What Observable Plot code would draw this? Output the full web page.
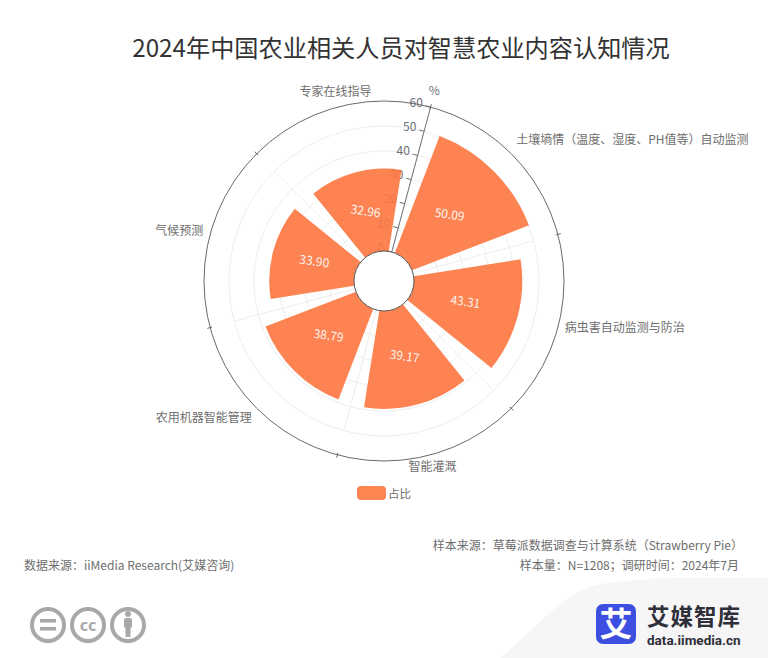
<!DOCTYPE html>
<html lang="zh">
<head>
<meta charset="utf-8">
<title>2024年中国农业相关人员对智慧农业内容认知情况</title>
<script src="https://cdn.jsdelivr.net/npm/d3@7"></script>
<script src="https://cdn.jsdelivr.net/npm/@observablehq/plot@0.6"></script>
<style>
  html,body{margin:0;padding:0;background:#fff;}
  body{width:768px;height:658px;position:relative;overflow:hidden;font-family:"Noto Sans CJK SC","Noto Sans",sans-serif;color:#666;}
  #bg{position:absolute;left:0;top:0;}
  #chart{position:absolute;left:0;top:0;}
  #chart svg{background:transparent;display:block;}
  .t{position:absolute;white-space:nowrap;font-size:12px;line-height:16px;color:#6e6e6e;}
  #title{left:0;width:802px;text-align:center;top:30px;font-size:24.2px;line-height:34px;color:#333;}
  #legend{left:357px;top:485px;display:flex;align-items:center;gap:2px;font-size:11.5px;}
  #legend i{display:block;width:29px;height:14px;border-radius:4px;background:#fd8552;}
  #logoT{left:647px;top:603px;font-size:22.5px;line-height:24px;font-weight:700;color:#2f2f3a;letter-spacing:1px;}
  #logoU{left:647px;top:633px;font-family:Roboto,sans-serif;font-size:13.5px;line-height:14px;font-weight:700;color:#2f2f3a;}
</style>
</head>
<body>
<svg id="bg" width="768" height="658">
  <path d="M500 658C540 625 565 590 600 584C650 576 720 578 768 578V658Z" fill="#f6f6f6"/>
  <g fill="none" stroke="#a8a8a8" stroke-width="4">
    <circle cx="48" cy="625" r="16"/><circle cx="88" cy="625" r="16"/><circle cx="128" cy="625" r="16"/>
  </g>
  <g fill="#a8a8a8">
    <rect x="40" y="619" width="16" height="3.5"/><rect x="40" y="627" width="16" height="3.5"/>
    <circle cx="128" cy="614" r="3"/><rect x="124" y="618" width="8" height="10" rx="2"/><rect x="125.5" y="626" width="5" height="11"/>
  </g>
  <text x="88" y="631" text-anchor="middle" font-size="16" font-weight="700" fill="#a8a8a8" font-family="Noto Sans">cc</text>
  <rect x="596" y="604" width="40" height="40" rx="7" fill="#3d4fe0"/>
  <text x="616" y="636" text-anchor="middle" font-size="33" font-weight="700" fill="#fff" font-family="Noto Sans CJK SC">艾</text>
</svg>
<div id="chart"></div>
<div class="t" id="title">2024年中国农业相关人员对智慧农业内容认知情况</div>
<div class="t" id="legend"><i></i><span>占比</span></div>
<div class="t" style="right:25px;top:537px;">样本来源&#xFF1A;草莓派数据调查与计算系统&#xFF08;Strawberry Pie&#xFF09;</div>
<div class="t" style="right:29px;top:557px;">样本量&#xFF1A;N=1208&#xFF1B;调研时间&#xFF1A;2024年7月</div>
<div class="t" style="left:24px;top:557px;">数据来源&#xFF1A;iiMedia Research(艾媒咨询)</div>
<div class="t" id="logoT">艾媒智库</div>
<div class="t" id="logoU">data.iimedia.cn</div>
<script>
const categories = ["土壤墒情\uFF08温度、湿度、PH值等\uFF09自动监测","病虫害自动监测与防治","智能灌溉","农用机器智能管理","气候预测","专家在线指导"];
const shares = [50.09, 43.31, 39.17, 38.79, 33.90, 32.96];
const radialTicks = [0, 10, 20, 30, 40, 50, 60];
const unitLabel = "%";
const rows = categories.map((category, i) => ({category, share: shares[i]}));

const cx = 384, cy = 281, step = 60;
const rad = d => d * Math.PI / 180;
const polar = (deg, r) => [cx + r * Math.sin(rad(deg)), cy - r * Math.cos(rad(deg))];
const font = '"Noto Sans CJK SC","Noto Sans",sans-serif';
const layer = () => d3.create("svg:g").attr("font-family", font);

const chart = Plot.plot({
  width: 768, height: 658,
  margin: 0,
  style: {background: "transparent"},
  x: {type: "band", domain: categories, range: [15, 375], paddingInner: 0.2, paddingOuter: 0.1, round: false, axis: null},
  y: {domain: [0, 60], range: [30, 180], axis: null},
  marks: [
    // concentric grid
    Plot.ruleY(radialTicks.slice(1, -1), {render(index, {y}) {
      const g = layer();
      g.selectAll("circle").data(Array.from(index, i => radialTicks[i + 1])).join("circle")
        .attr("cx", cx).attr("cy", cy).attr("r", v => y(v)).attr("fill", "none").attr("stroke", "#eeeeee");
      return g.node();
    }}),
    // spokes
    Plot.ruleX(categories, {render(index, {x, y}) {
      const g = layer();
      const angle = c => x(c) + x.bandwidth() / 2 - step / 2;
      g.selectAll("line").data(Array.from(index, i => categories[i])).join("line")
        .attr("x1", c => polar(angle(c), y(0))[0]).attr("y1", c => polar(angle(c), y(0))[1])
        .attr("x2", c => polar(angle(c), y(50))[0]).attr("y2", c => polar(angle(c), y(50))[1])
        .attr("stroke", "#eeeeee");
      return g.node();
    }}),
    // radial axis
    Plot.ruleY(radialTicks, {render(index, {x, y}) {
      const g = layer();
      const a = x(categories[0]) + x.bandwidth() / 2 - step / 2;
      const nx = -Math.cos(rad(a)), ny = -Math.sin(rad(a));
      const [x0, y0] = polar(a, y(0)), [x1, y1] = polar(a, y(60));
      g.append("line").attr("x1", x0).attr("y1", y0).attr("x2", x1).attr("y2", y1).attr("stroke", "#6E7079");
      const ticks = g.selectAll("g").data(Array.from(index, i => radialTicks[i])).join("g")
        .attr("transform", v => `translate(${polar(a, y(v))})`);
      ticks.append("line").attr("x2", 5 * nx).attr("y2", 5 * ny).attr("stroke", "#6E7079");
      ticks.append("text").attr("x", 8 * nx).attr("y", 8 * ny - 1.5).attr("text-anchor", "end")
        .attr("dominant-baseline", "middle").attr("font-size", 12).attr("fill", "#6E7079").text(v => v);
      const [ux, uy] = polar(a, y(60) + 14);
      g.append("text").attr("x", ux).attr("y", uy - 2).attr("dominant-baseline", "middle")
        .attr("font-size", 12).attr("fill", "#6E7079").text(unitLabel);
      return g.node();
    }}),
    // sectors
    Plot.barY(rows, {x: "category", y: "share", render(index, {x, y}) {
      const g = layer();
      const arc = d3.arc();
      g.selectAll("path").data(Array.from(index, i => rows[i])).join("path")
        .attr("transform", `translate(${cx},${cy})`)
        .attr("fill", "#fd773f").attr("fill-opacity", 0.9)
        .attr("d", d => arc({
          innerRadius: y(0), outerRadius: y(d.share),
          startAngle: rad(x(d.category)), endAngle: rad(x(d.category) + x.bandwidth())
        }));
      return g.node();
    }}),
    // sector value labels
    Plot.text(rows, {x: "category", y: "share", text: "share", render(index, {x, y}) {
      const g = layer();
      g.selectAll("text").data(Array.from(index, i => rows[i])).join("text")
        .attr("transform", d => `translate(${polar(x(d.category) + x.bandwidth() / 2, (y(0) + y(d.share)) / 2)}) rotate(8)`)
        .attr("text-anchor", "middle").attr("dominant-baseline", "middle")
        .attr("font-size", 12).attr("fill", "#fff").attr("fill-opacity", 0.92)
        .text(d => d.share.toFixed(2));
      return g.node();
    }}),
    // inner and outer rings
    Plot.ruleY([0, 60], {render(index, {y}) {
      const g = layer();
      g.append("circle").attr("cx", cx).attr("cy", cy).attr("r", y(0)).attr("fill", "#fff").attr("stroke", "#555");
      g.append("circle").attr("cx", cx).attr("cy", cy).attr("r", y(60)).attr("fill", "none").attr("stroke", "#6a6a6a");
      return g.node();
    }}),
    // angular ticks and category labels
    Plot.text(categories, {x: d => d, text: d => d, render(index, {x, y}) {
      const g = layer();
      const R = y(60);
      categories.forEach(c => {
        const b = x(c) + x.bandwidth() / 2 - step / 2;
        const [t0x, t0y] = polar(b, R - 2), [t1x, t1y] = polar(b, R + 3);
        g.append("line").attr("x1", t0x).attr("y1", t0y).attr("x2", t1x).attr("y2", t1y).attr("stroke", "#6a6a6a");
        const a = x(c) + x.bandwidth() / 2;
        const s = Math.sin(rad(a)), co = Math.cos(rad(a));
        const [lx, ly] = polar(a, R + 7);
        const vOff = Math.abs(co) < 0.3 ? -1 : co > 0 ? -8 : 6;
        g.append("text").attr("x", lx).attr("y", ly + vOff)
          .attr("text-anchor", Math.abs(s) < 0.3 ? "middle" : s > 0 ? "start" : "end")
          .attr("dominant-baseline", "middle").attr("font-size", 12).attr("fill", "#6e6e6e").text(c);
      });
      return g.node();
    }})
  ]
});
document.getElementById("chart").append(chart);
</script>
</body>
</html>
